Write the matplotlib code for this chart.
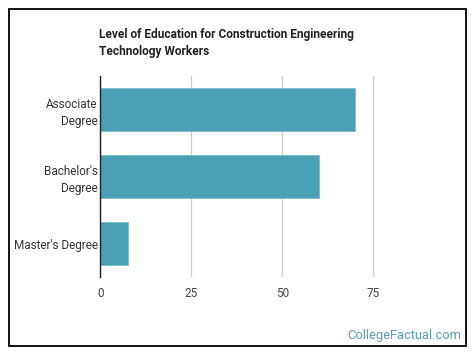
import matplotlib.pyplot as plt
from matplotlib.patches import Rectangle

# Данные
categories = ["Associate\nDegree", "Bachelor's\nDegree", "Master's Degree"]
values = [70.1, 60.2, 7.5]
ticks = [0, 25, 50, 75]

plt.rcParams['font.family'] = ['Roboto', 'DejaVu Sans']

fig = plt.figure(figsize=(4.76, 3.57), dpi=100)
W, H = 476, 357

# Рамка вокруг графика
fig.patches.append(Rectangle((8.5 / W, 11 / H), 457.5 / W, 337 / H, transform=fig.transFigure,
                             fill=False, edgecolor='black', linewidth=1.3))

ax = fig.add_axes([100.3 / W, 1 - 277 / H, 291.2 / W, 201 / H])
y = list(range(len(categories)))
ax.barh(y, values, height=0.64, color='#4aa0b5', edgecolor='#7cbccb', linewidth=0.6, zorder=3)
ax.set_ylim(2.5, -0.5)
ax.set_xlim(0, 80)
ax.set_yticks(y)
ax.set_yticklabels(categories, fontsize=8.5, color='#333333', linespacing=1.35)
ax.set_xticks(ticks)
ax.set_xticklabels([str(t) for t in ticks], fontsize=8.5, color='#444444')
ax.tick_params(axis='both', length=0, pad=2)
ax.tick_params(axis='x', pad=7)
ax.grid(axis='x', color='#cccccc', linewidth=0.9, zorder=0)
for s in ['top', 'right', 'bottom']:
    ax.spines[s].set_visible(False)
ax.spines['left'].set_color('#222222')
ax.spines['left'].set_linewidth(1)
ax.spines['left'].set_zorder(4)

# Заголовок и подпись
fig.text(99 / W, 1 - 28 / H, "Level of Education for Construction Engineering\nTechnology Workers",
         fontsize=8.6, fontweight='bold', color='#222222', va='top', ha='left', linespacing=1.4)
fig.text(461 / W, 1 - 335 / H, "CollegeFactual.com", fontsize=9.3, color='#5a9fb5',
         ha='right', va='center')

fig.savefig('out.png', dpi=100)
